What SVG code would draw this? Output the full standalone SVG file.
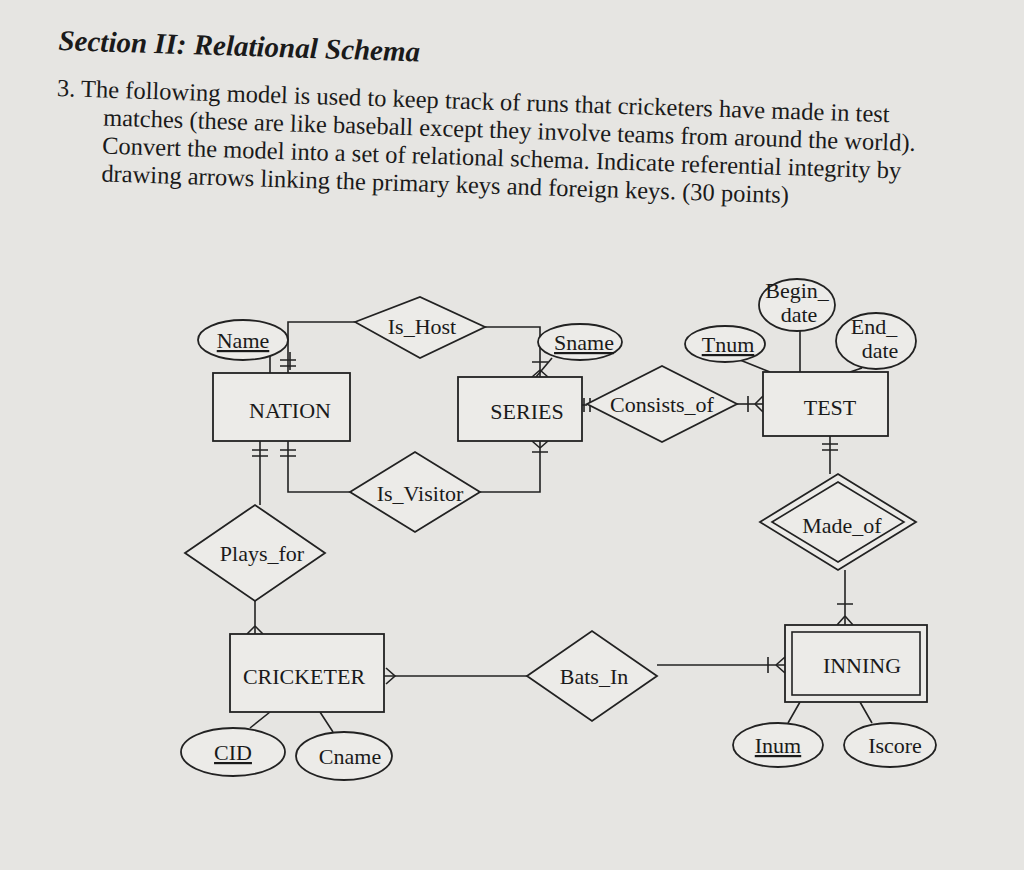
<svg xmlns="http://www.w3.org/2000/svg" width="1024" height="870" viewBox="0 0 1024 870">
<style>
.s{fill:none;stroke:#222;stroke-width:1.6}
.n{fill:#ecebe8;stroke:#222;stroke-width:1.8}
.t{font-family:"Liberation Serif",serif;font-size:22px;fill:#1a1a1a}
.h{font-family:"Liberation Serif",serif;font-size:24.5px;fill:#1a1a1a}
</style>
<rect width="1024" height="870" fill="#e6e5e2"/>
<g transform="translate(0,10) rotate(1.8 500 150)">
<text x="55" y="54" font-family="Liberation Serif,serif" font-size="29" font-weight="bold" font-style="italic" fill="#1a1a1a">Section II: Relational Schema</text>
<text class="h" x="55" y="100">3.   The following model is used to keep track of runs that cricketers have made in test</text>
<text class="h" x="102" y="128">matches (these are like baseball except they involve teams from around the world).</text>
<text class="h" x="102" y="156">Convert the model into a set of relational schema. Indicate referential integrity by</text>
<text class="h" x="102" y="184">drawing arrows linking the primary keys and foreign keys. (30 points)</text>
</g>
<g id="connectors" class="s">
<path d="M355,322 H288 V373"/><path d="M280,360 H296 M280,366 H296"/>
<path d="M485,327 H540 V377"/><path d="M532,362 H548 M540,370 L532,377 M540,370 L548,377"/>
<path d="M288,441 V492 H350"/><path d="M260,441 V505"/>
<path d="M252,450 H268 M252,456 H268 M280,450 H296 M280,456 H296"/>
<path d="M480,492 H540 V441"/><path d="M532,452 H548 M540,448 L532,441 M540,448 L548,441"/>
<path d="M582,405 H587"/><path d="M584,398 V412 M590,398 V412"/>
<path d="M737,404 H763"/><path d="M748,396 V412 M755,404 L763,396 M755,404 L763,412"/>
<path d="M830,436 V474"/><path d="M822,444 H838 M822,450 H838"/>
<path d="M845,570 V625"/><path d="M837,604 H853 M845,616 L837,625 M845,616 L853,625"/>
<path d="M255,601 V634"/><path d="M255,626 L247,634 M255,626 L263,634"/>
<path d="M384,676 H527"/><path d="M386,668 L395,676 L386,684"/>
<path d="M657,665 H785"/><path d="M768,657 V673 M776,665 L785,657 M776,665 L785,673"/>
<path d="M270,373 V350 M290,370 V352"/>
<path d="M552,358 L536,377"/>
<path d="M740,360 L770,372 M800,331 V372 M862,368 L850,372"/>
<path d="M800,702 L788,723 M860,702 L872,723"/>
<path d="M270,712 L250,728 M320,712 L333,732"/>
</g>
<g id="Name"><ellipse class="n" cx="243" cy="340" rx="45" ry="20"/><text class="t" x="243" y="348" text-anchor="middle" text-decoration="underline">Name</text></g>
<g id="NATION"><rect class="n" x="213" y="373" width="137" height="68"/><text class="t" x="290" y="418" text-anchor="middle">NATION</text></g>
<g id="Is_Host"><path class="n" d="M355,322 L420,297 L485,327 L420,358 Z"/><text class="t" x="422" y="334" text-anchor="middle">Is_Host</text></g>
<g id="SERIES"><rect class="n" x="458" y="377" width="124" height="64"/><text class="t" x="527" y="419" text-anchor="middle">SERIES</text></g>
<g id="Sname"><ellipse class="n" cx="580" cy="342" rx="42" ry="18"/><text class="t" x="584" y="350" text-anchor="middle" text-decoration="underline">Sname</text></g>
<g id="Consists_of"><path class="n" d="M587,404 L662,366 L737,404 L662,442 Z"/><text class="t" x="662" y="412" text-anchor="middle">Consists_of</text></g>
<g id="Tnum"><ellipse class="n" cx="725" cy="344" rx="40" ry="18"/><text class="t" x="728" y="352" text-anchor="middle" text-decoration="underline">Tnum</text></g>
<g id="Begin_date"><ellipse class="n" cx="797" cy="305" rx="38" ry="26"/><text class="t" x="797" y="298" text-anchor="middle" font-size="17">Begin_</text><text class="t" x="799" y="322" text-anchor="middle" font-size="17">date</text></g>
<g id="End_date"><ellipse class="n" cx="876" cy="341" rx="40" ry="28"/><text class="t" x="874" y="334" text-anchor="middle" font-size="17">End_</text><text class="t" x="880" y="358" text-anchor="middle" font-size="17">date</text></g>
<g id="TEST"><rect class="n" x="763" y="372" width="125" height="64"/><text class="t" x="830" y="415" text-anchor="middle">TEST</text></g>
<g id="Is_Visitor"><path class="n" d="M350,492 L415,452 L480,492 L415,532 Z"/><text class="t" x="420" y="501" text-anchor="middle">Is_Visitor</text></g>
<g id="Made_of"><path class="n" d="M760,522 L838,474 L916,522 L838,570 Z"/><path class="s" d="M772,522 L838,482 L904,522 L838,562 Z"/><text class="t" x="842" y="533" text-anchor="middle">Made_of</text></g>
<g id="Plays_for"><path class="n" d="M185,553 L255,505 L325,553 L255,601 Z"/><text class="t" x="262" y="561" text-anchor="middle">Plays_for</text></g>
<g id="CRICKETER"><rect class="n" x="230" y="634" width="154" height="78"/><text class="t" x="304" y="684" text-anchor="middle">CRICKETER</text></g>
<g id="Bats_In"><path class="n" d="M527,676 L592,631 L657,676 L592,721 Z"/><text class="t" x="594" y="684" text-anchor="middle">Bats_In</text></g>
<g id="INNING"><rect class="n" x="785" y="625" width="142" height="77"/><rect class="s" x="792" y="632" width="128" height="63"/><text class="t" x="862" y="673" text-anchor="middle">INNING</text></g>
<g id="CID"><ellipse class="n" cx="233" cy="752" rx="52" ry="24"/><text class="t" x="233" y="760" text-anchor="middle" text-decoration="underline">CID</text></g>
<g id="Cname"><ellipse class="n" cx="344" cy="756" rx="48" ry="24"/><text class="t" x="350" y="764" text-anchor="middle">Cname</text></g>
<g id="Inum"><ellipse class="n" cx="778" cy="745" rx="45" ry="22"/><text class="t" x="778" y="753" text-anchor="middle" text-decoration="underline">Inum</text></g>
<g id="Iscore"><ellipse class="n" cx="890" cy="745" rx="46" ry="22"/><text class="t" x="895" y="753" text-anchor="middle">Iscore</text></g>
</svg>
